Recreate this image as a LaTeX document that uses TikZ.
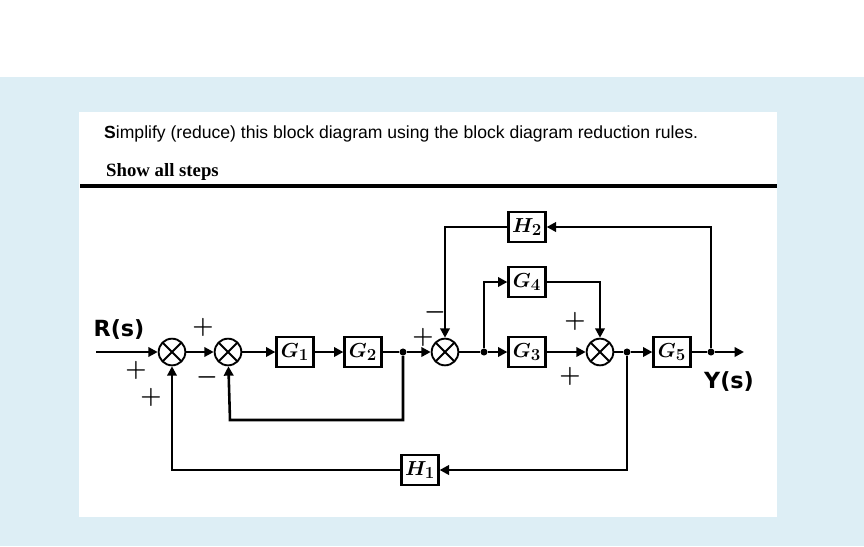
\documentclass[tikz,border=0pt]{standalone}
\usepackage{fontspec}
\usepackage{amsmath}
\usepackage{bm}
\newfontfamily\arialfont{Liberation Sans}
\newfontfamily\verdfont{DejaVu Sans}
\newfontfamily\timesfont{Liberation Serif}
\usetikzlibrary{arrows.meta}
\definecolor{panelblue}{HTML}{DDEEF5}
\begin{document}
\begin{tikzpicture}[x=0.03cm,y=-0.03cm]
	\tikzstyle{block} = [rectangle, draw, line width=2.2pt, minimum width=1.1cm, minimum height=0.9cm, inner sep=0pt, font=\fontsize{19}{22}\selectfont]
	\tikzstyle{summer} = [circle, draw, line width=1.6pt, minimum size=0.8cm, inner sep=0pt, path picture={\draw[line width=1.6pt] (path picture bounding box.north west) -- (path picture bounding box.south east) (path picture bounding box.north east) -- (path picture bounding box.south west);}]
	\tikzstyle{dot} = [circle, fill, minimum size=6pt, inner sep=0pt]
	\tikzstyle{sig} = [line width=2.2pt, -{Triangle[length=8pt,width=8pt]}]
	\tikzstyle{sign} = [font=\fontsize{22}{24}\selectfont]

	% Background and header
	\useasboundingbox (0,0) rectangle (864,546);
	\fill[panelblue] (0,77) rectangle (864,546);
	\fill[white] (79,112) rectangle (777,517);
	\node (title) [anchor=west, inner sep=0pt, font=\arialfont\fontsize{15}{18}\selectfont] at (104,134) {\textbf{S}implify (reduce) this block diagram using the block diagram reduction rules.};
	\node (steps) [anchor=west, inner sep=0pt, font=\timesfont\fontsize{16}{19}\selectfont] at (106,172) {\textbf{Show all steps}};
	\draw[line width=3.5pt] (80,186) -- (777,186);

	% Forward path
	\coordinate (in) at (96,352);
	\node (S1) [summer] at (172,352) {};
	\node (S2) [summer] at (228,352) {};
	\node (G1) [block] at (295,352) {$\bm{G_1}$};
	\node (G2) [block] at (363,352) {$\bm{G_2}$};
	\node (D1) [dot] at (403,352) {};
	\node (S3) [summer] at (445,352) {};
	\node (D2) [dot] at (484,352) {};
	\node (G3) [block] at (527,352) {$\bm{G_3}$};
	\node (G4) [block] at (527,282) {$\bm{G_4}$};
	\node (H2) [block] at (527,227) {$\bm{H_2}$};
	\node (S4) [summer] at (600,352) {};
	\node (D3) [dot] at (627,352) {};
	\node (G5) [block] at (672,352) {$\bm{G_5}$};
	\node (D4) [dot] at (711,352) {};
	\coordinate (out) at (744,352);
	\node (H1) [block] at (420,470) {$\bm{H_1}$};

	% Labels
	\node (R) [font=\verdfont\fontsize{19}{22}\selectfont] at (119,330) {\textbf{R(s)}};
	\node (Y) [font=\verdfont\fontsize{19}{22}\selectfont] at (729,382) {\textbf{Y(s)}};
	\node [sign] at (136,370) {$\bm{+}$};
	\node [sign] at (151,397) {$\bm{+}$};
	\node [sign] at (203,327) {$\bm{+}$};
	\node [sign] at (207,377) {$\bm{-}$};
	\node [sign] at (423,337) {$\bm{+}$};
	\node [sign] at (435,312) {$\bm{-}$};
	\node [sign] at (575,321) {$\bm{+}$};
	\node [sign] at (570,376) {$\bm{+}$};

	% Connections
	\draw[sig] (in) -- (S1);
	\draw[sig] (S1) -- (S2);
	\draw[sig] (S2) -- (G1);
	\draw[sig] (G1) -- (G2);
	\draw[line width=2.2pt] (G2) -- (D1);
	\draw[sig] (D1) -- (S3);
	\draw[line width=2.2pt] (S3) -- (D2);
	\draw[sig] (D2) -- (G3);
	\draw[sig] (G3) -- (S4);
	\draw[line width=2.2pt] (S4) -- (D3);
	\draw[sig] (D3) -- (G5);
	\draw[line width=2.2pt] (G5) -- (D4);
	\draw[sig] (D4) -- (out);
	% Loops
	\draw[sig] (D1) |- (230,420) -- (S2);
	\draw[sig] (D2) |- (G4);
	\draw[sig] (G4) -| (S4);
	\draw[sig] (D4) |- (H2);
	\draw[sig] (H2) -| (S3);
	\draw[sig] (D3) |- (H1);
	\draw[sig] (H1) -| (S1);
\end{tikzpicture}
\end{document}
